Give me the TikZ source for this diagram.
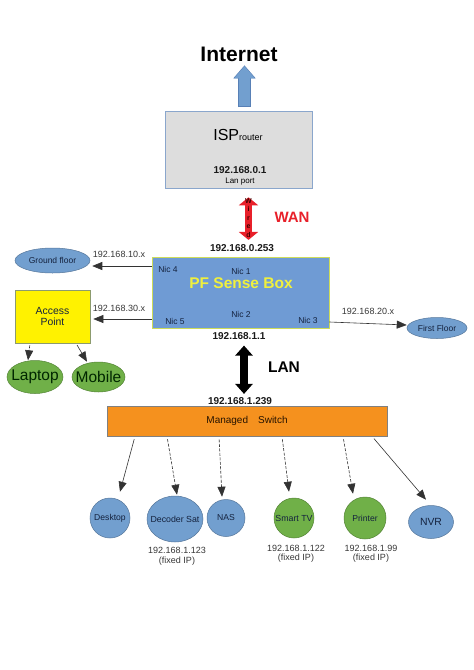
\documentclass[tikz,border=0pt]{standalone}
\usepackage{fontspec}
\setmainfont{Liberation Sans}
\usetikzlibrary{arrows.meta, positioning, shapes.geometric, calc}
\definecolor{nblue}{RGB}{114,159,207}
\definecolor{pfblue}{RGB}{111,155,212}
\definecolor{nborder}{RGB}{88,128,182}
\definecolor{ngreen}{RGB}{112,176,72}
\definecolor{gborder}{RGB}{82,140,52}
\definecolor{sorange}{RGB}{245,145,30}
\definecolor{wanred}{RGB}{232,32,42}
\definecolor{navy}{RGB}{20,34,62}
\definecolor{ipgray}{RGB}{55,55,55}
\definecolor{ispgray}{RGB}{221,221,221}
\definecolor{pfedge}{RGB}{205,220,90}
\definecolor{pfyellow}{RGB}{240,240,60}
\definecolor{apedge}{RGB}{140,155,110}
\newcommand{\fsz}[1]{\fontsize{#1}{#1}\selectfont}

\begin{document}
\begin{tikzpicture}[x=1pt, y=-1pt,
  ipbold/.style={font=\fsz{10}\bfseries, text=black!90},
  iplbl/.style={font=\fontsize{9}{9.5}\selectfont, text=ipgray, align=center},
  nic/.style={font=\fsz{8.5}, text=navy},
  device/.style={ellipse, draw=#1!75!black, fill=#1, line width=0.5pt, inner sep=0pt, text=navy},
  arr/.style={-{Triangle[length=10pt,width=8pt]}, line width=0.6pt, black!80},
  dasharr/.style={arr, dash pattern=on 3pt off 1.5pt}]
  \fill[white] (0,0) rectangle (474,670);
  \useasboundingbox (0,0) rectangle (474,670);

  % internet and isp router
  \node[font=\fsz{21}\bfseries] (internet) at (239,54.5) {Internet};
  \node[draw=nborder!70, fill=ispgray, line width=0.6pt, minimum width=147pt, minimum height=77pt] (isp) at (238.5,149.5) {};
  \node[font=\fsz{16}] (ispname) at (238,134.5) {ISP{\fsz{9}router}};
  \node[ipbold] (ispip) at (240,170) {192.168.0.1};
  \node[font=\fsz{8}] (lanport) at (240,182) {Lan port};
  \coordinate (inetbase) at (244.5,107);
  \draw[nborder, line width=12.4pt, -{Triangle[length=13pt,width=21.6pt]}] (inetbase) -- (inetbase |- internet.south);
  \draw[nblue, line width=11pt, shorten <=0.6pt, shorten >=0.9pt, -{Triangle[length=12pt,width=20pt]}] (inetbase) -- (inetbase |- internet.south);

  % wan link
  \node[font=\fsz{15}\bfseries, text=wanred] (wan) at (292,217.5) {WAN};
  \node[ipbold] (wanip) at (242,248) {192.168.0.253};
  \draw[wanred, line width=7pt, shorten <=9pt, shorten >=1pt,
    {Triangle[length=8pt,width=19pt]}-{Triangle[length=8pt,width=19pt]}] (isp.south -| 248.5,0) -- (wanip.north -| 248.5,0);
  \node[font=\fontsize{7}{8.5}\selectfont\bfseries, text=black!75!red, align=center, inner sep=0pt] (wired) at (248.5,218) {W\\i\\r\\e\\d};

  % pf sense box
  \node[draw=pfedge, fill=pfblue, line width=0.8pt, minimum width=177pt, minimum height=71pt] (pf) at (240.5,292.5) {};
  \node[font=\fsz{15.5}\bfseries, text=pfyellow] (pfname) at (241,283) {PF Sense Box};
  \node[nic] (nic4) at (168,269) {Nic 4};
  \node[nic] (nic1) at (241,271) {Nic 1};
  \node[nic] (nic5) at (175,321) {Nic 5};
  \node[nic] (nic2) at (241,314) {Nic 2};
  \node[nic] (nic3) at (308,320) {Nic 3};
  \node[ipbold] (lanip) at (239,336.5) {192.168.1.1};

  % floors and access point
  \node[device=nblue, minimum width=75pt, minimum height=25pt, font=\fsz{8.5}] (ground) at (52.5,260.5) {\makebox[0pt]{Ground floor}};
  \draw[arr, shorten >=2pt] (pf.west |- 0,266) -- (ground.east |- 0,266);
  \node[iplbl] (net10) at (119,254.5) {192.168.10.x};
  \node[draw=apedge, fill=yellow, line width=0.6pt, minimum width=75pt, minimum height=53pt, align=center,
    font=\fontsize{10.4}{11}\selectfont, text=navy] (ap) at (52.5,316.5) {Access\\Point};
  \draw[arr, shorten >=3pt] (pf.west |- 0,319) -- (ap.east |- 0,319);
  \node[iplbl] (net30) at (119,308) {192.168.30.x};
  \node[device=nblue, minimum width=60pt, minimum height=21pt, font=\fsz{8.5}] (first) at (437,328) {\makebox[0pt]{First Floor}};
  \draw[arr] (pf.east |- 0,322) -- ([yshift=3pt]first.west);
  \node[iplbl] (net20) at (368,311.5) {192.168.20.x};
  \node[device=ngreen, minimum width=56pt, minimum height=33pt, font=\fsz{15.5}, text=black!85!green] (laptop) at (35,377) {\makebox[0pt]{Laptop}};
  \node[device=ngreen, minimum width=53pt, minimum height=30pt, font=\fsz{15.5}, text=black!85!green] (mobile) at (98.5,377) {\makebox[0pt]{Mobile}};
  \draw[dasharr, shorten <=2pt] (ap.south -| 30,0) -- (laptop.north -| 28,0);
  \draw[arr, shorten <=2pt] (ap.south -| 76,0) -- (mobile.north -| 87,0);

  % lan link and switch
  \node[font=\fsz{15.5}\bfseries] (lan) at (284,367.5) {LAN};
  \node[ipbold] (swip) at (240,401) {192.168.1.239};
  \draw[black, line width=8pt, shorten <=2pt,
    {Triangle[length=10pt,width=17pt]}-{Triangle[length=10pt,width=17pt]}] (lanip.south -| 244,0) -- (swip.north -| 244,0);
  \node[draw=gray, fill=sorange, line width=0.6pt, minimum width=280pt, minimum height=30pt, font=\fsz{10}, text=black!85!orange] (switch) at (247,421) {Managed\hspace{10pt}Switch};

  % devices on the switch
  \foreach \nm/\px/\py/\w/\h/\col/\lbl/\fz/\sx/\ls/\dx/\dy in {
    desktop/110/518/40/40/nblue/Desktop/8.6/135/arr/10/-6,
    decoder/175/519/56/46/nblue/Decoder Sat/8.8/167/dasharr/2/-1,
    nas/226/518/38/37/nblue/NAS/8.6/219/dasharr/-4/-2.5,
    smarttv/294/518/40/40/ngreen/Smart TV/8.8/282/dasharr/-5/-6,
    printer/365/518/42/42/ngreen/Printer/8.6/343/dasharr/-12/-3,
    nvr/431/522/45/33/nblue/NVR/10.4/372/arr/-5/-5.5}{
    \node[device=\col, minimum width=\w pt, minimum height=\h pt, font=\fsz{\fz}] (\nm) at (\px,\py) {\makebox[0pt]{\lbl}};
    \draw[\ls, shorten <=3pt] (switch.south -| \sx,0) -- ([shift={(\dx,\dy)}]\nm.north);
  }
  \node[iplbl] (decip) at (177,556.5) {192.168.1.123\\(fixed IP)};
  \node[iplbl] (tvip) at (296,554) {192.168.1.122\\(fixed IP)};
  \node[iplbl] (prnip) at (371,554) {192.168.1.99\\(fixed IP)};
\end{tikzpicture}
\end{document}
